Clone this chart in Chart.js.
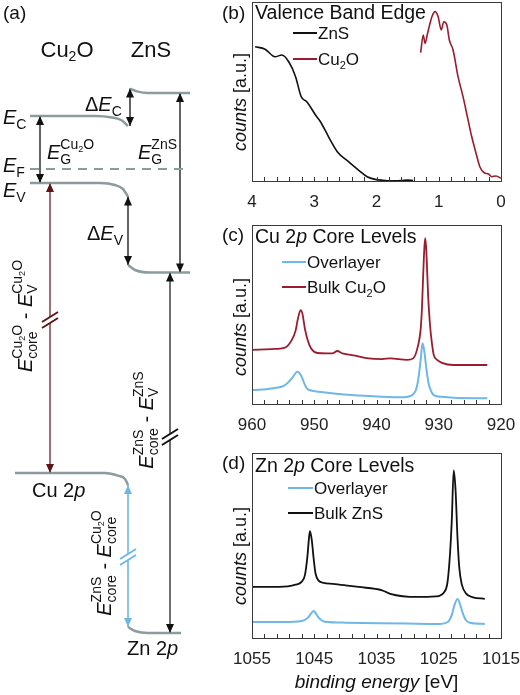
<!DOCTYPE html>
<html>
<head>
<meta charset="utf-8">
<script src="https://cdn.jsdelivr.net/npm/chart.js@4.4.1/dist/chart.umd.min.js"></script>
<style>
  html, body { margin: 0; padding: 0; background: #fff; }
  #wrap { position: relative; width: 520px; height: 695px; }
  canvas { position: absolute; left: 0; top: 0; }
</style>
</head>
<body>
<div id="wrap">
  <canvas id="bands" width="520" height="695"></canvas>
  <canvas id="vb" width="520" height="695"></canvas>
  <canvas id="cu" width="520" height="695"></canvas>
  <canvas id="zn" width="520" height="695"></canvas>
</div>
<script>
const FONT = '"Liberation Sans", Arial, Helvetica, sans-serif';
const RED = '#9b1c2e';
const BLUE = '#6fb7e7';
const BLACK = '#111';
const BAND = '#8c9b9b';

// (a) band diagram: [position, energy (a.u., E_F = 0)]
const cbCu2O = [[3.0, 2.65], [9.5, 2.65], [11.2, 2.575], [12.2, 2.425], [12.8, 2.15]];
const cbZnS = [[13.0, 4.02], [13.7, 3.88], [14.8, 3.8], [19.0, 3.8]];
const fermi = [[3.0, 0], [19.0, 0]];
const vbCu2O = [[3.0, -0.7], [10.0, -0.7], [11.5, -0.8], [12.3, -1.0], [12.8, -1.38]];
const vbZnS = [[12.8, -4.8], [13.5, -5.05], [15.0, -5.175], [19.0, -5.175]];
const cu2p = [[1.5, -15.2], [10.5, -15.2], [11.8, -15.33], [12.5, -15.5], [12.8, -15.8]];
const zn2p = [[12.8, -22.9], [13.5, -23.1], [14.8, -23.2], [18.1, -23.2]];

// arrows: [position, top energy, bottom energy]
const dEc = [13.0, 4.02, 2.15];
const egCu2O = [4.0, 2.65, -0.7];
const egZnS = [18.0, 3.8, -5.175];
const dEv = [12.8, -1.38, -4.8];
const coreCu = [5.0, -0.7, -15.2];
const coreZn = [17.0, -5.175, -23.2];
const coreDiff = [12.8, -15.8, -22.9];
const breakCu = -7.55, breakZn = -13.4, breakDiff = -19.4;

// (b) valence band edge
const vbZnsE = [3.95, 3.79, 3.63, 3.52, 3.41, 3.30, 3.21, 3.12, 2.98, 2.90, 2.77, 2.63, 2.45, 2.29, 2.15, 2.02, 1.90, 1.75, 1.60, 1.50, 1.41];
const vbZnsI = [75.0, 73.6, 69.4, 70.4, 66.6, 58.3, 47.1, 44.3, 36.9, 33.1, 24.7, 16.4, 10.8, 6.1, 2.4, 0.9, 0.4, 0.1, 0.2, 0.5, 0.3];
const vbCuE = [1.29, 1.25, 1.22, 1.18, 1.14, 1.11, 1.06, 1.01, 0.96, 0.92, 0.87, 0.83, 0.77, 0.69, 0.61, 0.54, 0.47, 0.40, 0.34, 0.27, 0.20, 0.15, 0.08, 0.0];
const vbCuI = [71.7, 81.6, 76.9, 82.5, 88.1, 91.8, 94.6, 91.8, 84.4, 89.0, 87.2, 78.8, 73.2, 58.3, 47.1, 35.9, 24.7, 15.4, 8.0, 4.6, 3.9, 2.4, 2.8, 1.5];
const vbLabels = [4, 3, 2, 1, 0];

// (c) Cu 2p
const cuBulkE = [960, 956.8, 954.7, 953.6, 953.0, 952.6, 952.2, 951.9, 951.5, 951.0, 950.5, 949.5, 948, 947.1, 946.3, 945.5, 943.4, 941.3, 939.1, 937.8, 935.1, 934.1, 933.3, 932.9, 932.7, 932.5, 932.3, 932.15, 931.95, 931.7, 931.4, 931.1, 930.8, 930.2, 929.5, 927.6, 924.9, 922.2];
const cuBulkI = [30.2, 30.7, 31.5, 35.8, 41, 48, 52.5, 50.5, 42, 35, 31, 28.5, 28.3, 28.3, 29.6, 28.3, 27.0, 25.5, 25.1, 25.5, 24.6, 25.5, 33, 42, 53.5, 72, 88, 92.6, 82, 60, 44, 34, 27.4, 24.5, 23, 21.8, 21.8, 21.8];
const cuOverE = [960, 956.8, 954.7, 953.6, 953.1, 952.7, 952.3, 952.0, 951.6, 951.2, 950.5, 949.3, 944.0, 939.1, 935.7, 934.1, 933.6, 933.2, 932.9, 932.6, 932.3, 932.0, 931.6, 931.2, 930.8, 929.5, 927.6, 922.2];
const cuOverI = [7.8, 8.7, 10.6, 14.3, 16.8, 18.0, 17.0, 15.0, 11.5, 8.7, 7.5, 6.9, 5.0, 4.1, 3.8, 5.5, 8.5, 16, 25, 34, 29, 20, 11, 7, 5.0, 4.0, 3.5, 3.2];
const cuLabels = [960, 950, 940, 930, 920];

// (d) Zn 2p
const znBulkE = [1055, 1050.7, 1048, 1047, 1046.5, 1046.1, 1045.9, 1045.7, 1045.4, 1045.1, 1044.8, 1044.3, 1043.5, 1042, 1040, 1037.9, 1034.1, 1032.8, 1028.5, 1025.5, 1024.2, 1023.6, 1023.2, 1022.9, 1022.6, 1022.3, 1022.0, 1021.7, 1021.3, 1020.6, 1019.5, 1017.6];
const znBulkI = [27.6, 27.6, 28.8, 30.5, 34, 44, 52, 57.7, 53, 43, 35, 31, 29.8, 29.3, 28.5, 27.6, 25.8, 23.9, 22.2, 22.5, 24.5, 30, 45, 64, 90.6, 80, 55, 38, 29, 24, 22, 21.2];
const znOverE = [1055, 1050, 1047, 1046, 1045.5, 1045.1, 1044.7, 1044.3, 1043.3, 1040, 1030, 1025, 1023.5, 1022.9, 1022.5, 1022.0, 1021.6, 1021.2, 1020.7, 1020, 1017.6];
const znOverI = [8.6, 8.6, 9.2, 11.0, 13.3, 14.6, 13.0, 11.0, 8.8, 8.3, 7.8, 7.6, 8.8, 12.5, 17.5, 21.1, 18.5, 14, 10, 8.2, 7.6];
const znLabels = [1055, 1045, 1035, 1025, 1015];

// text with italic / sub / superscript runs
function rich(ctx, x, y, runs, align) {
  let cur = 0, mark = 0;
  const items = runs.map(r => {
    ctx.font = (r.i ? 'italic ' : '') + r.s + 'px ' + FONT;
    const w = ctx.measureText(r.t).width;
    if (r.m) mark = cur;
    const start = r.b ? mark : cur;
    cur = r.b ? Math.max(cur, start + w) : start + w;
    return { t: r.t, font: ctx.font, x: start, dy: r.dy || 0 };
  });
  const off = align === 'center' ? -cur / 2 : align === 'right' ? -cur : 0;
  ctx.textAlign = 'left';
  ctx.textBaseline = 'alphabetic';
  items.forEach(it => { ctx.font = it.font; ctx.fillText(it.t, x + off + it.x, y + it.dy); });
}
function rot(ctx, x, y, runs) {
  ctx.save();
  ctx.translate(x, y);
  ctx.rotate(-Math.PI / 2);
  rich(ctx, 0, 0, runs, 'center');
  ctx.restore();
}
const supCu2O = [{ t: 'Cu', s: 14, dy: -10, m: true }, { t: '2', s: 9, dy: -7 }, { t: 'O', s: 14, dy: -10 }];
const supZnS = [{ t: 'ZnS', s: 14, dy: -10, m: true }];
const bigE = { t: 'E', s: 20, i: true };
const sub = t => ({ t, s: 14, dy: 5, b: true });
const minus = { t: ' - ', s: 20 };

// ---------- (a) ----------
const xy = arr => arr.map(p => ({ x: p[0], y: p[1] }));
const level = (arr, extra) => Object.assign({
  data: xy(arr), borderColor: BAND, borderWidth: 2.5, pointRadius: 0,
  cubicInterpolationMode: 'monotone', fill: false
}, extra || {});
const arrow = (a, color, w, brk) => ({
  data: [{ x: a[0], y: a[1] }, { x: a[0], y: a[2] }],
  borderColor: color, borderWidth: w, pointRadius: 0, fill: false, arrow: true, brk
});

const arrowPlugin = {
  id: 'arrowHeads',
  afterDatasetsDraw(chart) {
    const ctx = chart.ctx, sy = chart.scales.y;
    ctx.save();
    chart.data.datasets.forEach((ds, i) => {
      if (!ds.arrow) return;
      const pts = chart.getDatasetMeta(i).data;
      const x = pts[0].x, y0 = pts[0].y, y1 = pts[1].y;
      ctx.fillStyle = ds.borderColor;
      ctx.beginPath();
      ctx.moveTo(x, y0); ctx.lineTo(x - 4, y0 + 9); ctx.lineTo(x + 4, y0 + 9); ctx.closePath();
      ctx.moveTo(x, y1); ctx.lineTo(x - 4, y1 - 9); ctx.lineTo(x + 4, y1 - 9); ctx.closePath();
      ctx.fill();
      if (ds.brk !== undefined) {
        const by = sy.getPixelForValue(ds.brk);
        ctx.fillStyle = '#fff';
        ctx.fillRect(x - 3, by - 3, 6, 6);
        ctx.strokeStyle = ds.borderColor;
        ctx.lineWidth = 2;
        ctx.beginPath();
        [-3, 3].forEach(o => { ctx.moveTo(x - 8, by + o + 5); ctx.lineTo(x + 8, by + o - 5); });
        ctx.stroke();
      }
    });
    ctx.restore();
  },
  afterDraw(chart) {
    const ctx = chart.ctx;
    ctx.save();
    ctx.fillStyle = BLACK;
    rich(ctx, 3, 19, [{ t: '(a)', s: 19 }], 'left');
    rich(ctx, 67, 57, [{ t: 'Cu', s: 22 }, { t: '2', s: 14, dy: 4 }, { t: 'O', s: 22 }], 'center');
    rich(ctx, 151, 57, [{ t: 'ZnS', s: 22 }], 'center');
    rich(ctx, 3, 124, [bigE, { t: 'C', s: 14, dy: 5 }], 'left');
    rich(ctx, 3, 172, [bigE, { t: 'F', s: 14, dy: 5 }], 'left');
    rich(ctx, 3, 197, [bigE, { t: 'V', s: 14, dy: 5 }], 'left');
    rich(ctx, 85, 111, [{ t: 'Δ', s: 20 }, bigE, { t: 'C', s: 14, dy: 5 }], 'left');
    rich(ctx, 87, 240, [{ t: 'Δ', s: 20 }, bigE, { t: 'V', s: 14, dy: 5 }], 'left');
    rich(ctx, 47, 159, [bigE, ...supCu2O, sub('G')], 'left');
    rich(ctx, 138, 159, [bigE, ...supZnS, sub('G')], 'left');
    rot(ctx, 32, 316, [bigE, ...supCu2O, sub('core'), minus, bigE, ...supCu2O, sub('V')]);
    rot(ctx, 153, 420, [bigE, ...supZnS, sub('core'), minus, bigE, ...supZnS, sub('V')]);
    rot(ctx, 111, 563, [bigE, ...supZnS, sub('core'), minus, bigE, ...supCu2O, sub('core')]);
    rich(ctx, 32, 497, [{ t: 'Cu 2', s: 20 }, { t: 'p', s: 20, i: true }], 'left');
    rich(ctx, 127, 655, [{ t: 'Zn 2', s: 20 }, { t: 'p', s: 20, i: true }], 'left');
    ctx.restore();
  }
};

new Chart(document.getElementById('bands'), {
  type: 'line',
  data: {
    datasets: [
      level(cbCu2O), level(cbZnS), level(fermi, { borderDash: [9, 7], borderWidth: 2 }),
      level(vbCu2O), level(vbZnS), level(cu2p), level(zn2p),
      arrow(dEc, BLACK, 1.3), arrow(egCu2O, BLACK, 1.3), arrow(egZnS, BLACK, 1.3),
      arrow(dEv, BLACK, 1.3), arrow(coreCu, '#5e1414', 1.2, breakCu),
      arrow(coreZn, BLACK, 1.2, breakZn), arrow(coreDiff, BLUE, 1.6, breakDiff)
    ]
  },
  options: {
    responsive: false, animation: false, devicePixelRatio: 1,
    layout: { padding: { left: 0, top: 0, right: 270, bottom: 0 } },
    scales: {
      x: { type: 'linear', min: 0, max: 25, display: false },
      y: { type: 'linear', min: -26.3, max: 8.45, display: false }
    },
    plugins: { legend: { display: false }, tooltip: { enabled: false } }
  },
  plugins: [arrowPlugin]
});

// ---------- (b)-(d) ----------
const AXH = 30;
function makeDeco(o) {
  return {
    id: 'deco',
    afterDraw(chart) {
      const ctx = chart.ctx, a = chart.chartArea, sx = chart.scales.x;
      ctx.save();
      ctx.strokeStyle = '#333';
      ctx.lineWidth = 1;
      ctx.beginPath();
      sx.ticks.forEach(t => {
        const px = Math.round(sx.getPixelForValue(t.value)) + 0.5;
        ctx.moveTo(px, a.bottom); ctx.lineTo(px, a.bottom - 4);
      });
      ctx.stroke();
      ctx.strokeStyle = '#3a3a3a';
      ctx.strokeRect(Math.round(a.left) + 0.5, Math.round(a.top) + 0.5,
        Math.round(a.right - a.left), Math.round(a.bottom - a.top));
      ctx.fillStyle = BLACK;
      rich(ctx, 222, o.letterY, [{ t: o.letter, s: 19 }], 'left');
      rich(ctx, a.left + 3, o.titleY, o.title, 'left');
      o.legend.forEach(r => {
        ctx.strokeStyle = chart.data.datasets[r.ds].borderColor;
        ctx.lineWidth = 2;
        ctx.beginPath();
        ctx.moveTo(o.lx1, r.y); ctx.lineTo(o.lx2, r.y);
        ctx.stroke();
        rich(ctx, o.lx2 + 1, r.y + 6, r.text, 'left');
      });
      rot(ctx, 246, o.ytY, [{ t: 'counts', s: 18, i: true }, { t: ' [a.u.]', s: 18 }]);
      if (o.xt) rich(ctx, (a.left + a.right) / 2, 688, o.xt, 'center');
      ctx.restore();
    }
  };
}

function spectrum(id, box, range, step, labels, series, deco) {
  const minor = [];
  for (let v = range[0]; v <= range[1] + 1e-9; v += step) minor.push(Math.round(v * 100) / 100);
  new Chart(document.getElementById(id), {
    type: 'line',
    data: {
      datasets: series.map(s => ({
        data: s.x.map((x, i) => ({ x, y: s.y[i] })),
        borderColor: s.color, borderWidth: s.w, pointRadius: 0,
        cubicInterpolationMode: 'monotone', fill: false
      }))
    },
    options: {
      responsive: false, animation: false, devicePixelRatio: 1,
      layout: { padding: { left: box[0], top: box[1], right: 520 - box[2], bottom: 695 - box[3] - AXH } },
      scales: {
        x: {
          type: 'linear', min: range[0], max: range[1], reverse: true,
          afterBuildTicks: sc => { sc.ticks = minor.map(v => ({ value: v })); },
          afterFit: sc => { sc.height = AXH; },
          grid: { display: false, drawTicks: false },
          border: { display: false },
          ticks: {
            autoSkip: false, maxRotation: 0, padding: 11, color: '#222',
            font: { family: FONT, size: 17 },
            callback: v => labels.includes(v) ? String(v) : ''
          }
        },
        y: { min: 0, max: 100, display: false }
      },
      plugins: { legend: { display: false }, tooltip: { enabled: false } }
    },
    plugins: [makeDeco(deco)]
  });
}

spectrum('vb', [252, 2, 501, 181], [0, 4], 0.2, vbLabels, [
  { x: vbZnsE, y: vbZnsI, color: BLACK, w: 1.6 },
  { x: vbCuE, y: vbCuI, color: RED, w: 1.6 }
], {
  letter: '(b)', letterY: 19, titleY: 19, ytY: 102,
  title: [{ t: 'Valence Band Edge', s: 19.5 }],
  lx1: 293, lx2: 317,
  legend: [
    { ds: 0, y: 33, text: [{ t: 'ZnS', s: 17 }] },
    { ds: 1, y: 59, text: [{ t: 'Cu', s: 17 }, { t: '2', s: 11, dy: 4 }, { t: 'O', s: 17 }] }
  ]
});

spectrum('cu', [252, 225, 501, 404], [920, 960], 2, cuLabels, [
  { x: cuOverE, y: cuOverI, color: BLUE, w: 2 },
  { x: cuBulkE, y: cuBulkI, color: RED, w: 1.8 }
], {
  letter: '(c)', letterY: 241, titleY: 243, ytY: 327,
  title: [{ t: 'Cu 2', s: 19.5 }, { t: 'p', s: 19.5, i: true }, { t: ' Core Levels', s: 19.5 }],
  lx1: 282, lx2: 306,
  legend: [
    { ds: 0, y: 262, text: [{ t: 'Overlayer', s: 17 }] },
    { ds: 1, y: 287, text: [{ t: 'Bulk Cu', s: 17 }, { t: '2', s: 11, dy: 4 }, { t: 'O', s: 17 }] }
  ]
});

spectrum('zn', [252, 453, 501, 638], [1015, 1055], 2, znLabels, [
  { x: znOverE, y: znOverI, color: BLUE, w: 2 },
  { x: znBulkE, y: znBulkI, color: BLACK, w: 1.8 }
], {
  letter: '(d)', letterY: 469, titleY: 472, ytY: 556,
  title: [{ t: 'Zn 2', s: 19.5 }, { t: 'p', s: 19.5, i: true }, { t: ' Core Levels', s: 19.5 }],
  lx1: 288, lx2: 313,
  legend: [
    { ds: 0, y: 488, text: [{ t: 'Overlayer', s: 17 }] },
    { ds: 1, y: 513, text: [{ t: 'Bulk ZnS', s: 17 }] }
  ],
  xt: [{ t: 'binding energy', s: 19, i: true }, { t: ' [eV]', s: 19 }]
});
</script>
</body>
</html>
